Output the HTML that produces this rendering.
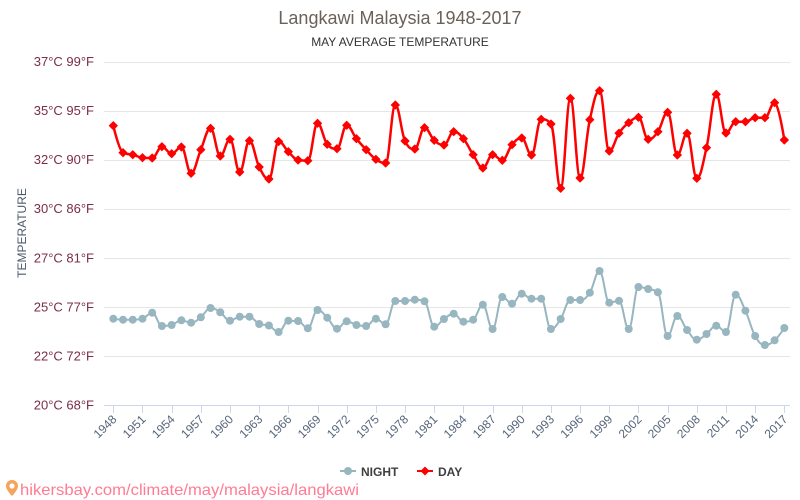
<!DOCTYPE html>
<html><head><meta charset="utf-8"><style>
html,body{margin:0;padding:0;background:#fff;}
svg{display:block;}
text{font-family:"Liberation Sans",sans-serif;}
</style></head><body>
<svg id="c" width="800" height="500" viewBox="0 0 800 500" xmlns="http://www.w3.org/2000/svg">
<rect width="800" height="500" fill="#fff"/>
<text x="400" y="24" text-anchor="middle" font-size="18" fill="#6b6158">Langkawi Malaysia 1948-2017</text>
<text x="400" y="46" text-anchor="middle" font-size="12" fill="#333">MAY AVERAGE TEMPERATURE</text>
<g id="grid" stroke="#e6e6e6" stroke-width="1"></g>
<g id="ylab" font-size="13" fill="#7b2d46" text-anchor="end"></g>
<text transform="translate(26,233) rotate(-90)" text-anchor="middle" font-size="12" fill="#4d5a6c">TEMPERATURE</text>
<line x1="104" y1="405.5" x2="790" y2="405.5" stroke="#ccd6eb" stroke-width="1"/>
<g id="ticks" stroke="#ccd6eb" stroke-width="1"></g>
<g id="xlab" font-size="12" fill="#56657a" text-anchor="end"></g>
<g id="series"></g>
<g>
<line x1="340" y1="471" x2="356" y2="471" stroke="#97b6c0" stroke-width="2"/>
<circle cx="348" cy="471" r="4" fill="#97b6c0"/>
<text x="361" y="476" font-family="'DejaVu Sans Mono',monospace" font-weight="bold" font-size="12" fill="#3f3f3f">NIGHT</text>
<line x1="417" y1="471" x2="433" y2="471" stroke="#ff0000" stroke-width="2"/>
<path d="M425 466.5 L429.5 471 L425 475.5 L420.5 471 Z" fill="#ff0000"/>
<text x="438" y="476" font-family="'DejaVu Sans Mono',monospace" font-weight="bold" font-size="12" fill="#3f3f3f">DAY</text>
</g>
<g transform="translate(6,480)">
<path d="M6 0 C2.5 0 0 2.6 0 6 C0 10 6 16 6 16 C6 16 12 10 12 6 C12 2.6 9.5 0 6 0 Z" fill="#f7a35c"/>
<circle cx="6" cy="6" r="2.6" fill="#fff"/>
</g>
<text x="20" y="495" font-size="16" fill="#ff7b93" textLength="339" lengthAdjust="spacingAndGlyphs">hikersbay.com/climate/may/malaysia/langkawi</text>
</svg>
<script>
(function(){
var NS="http://www.w3.org/2000/svg";
function el(n,a,p){var e=document.createElementNS(NS,n);for(var k in a)e.setAttribute(k,a[k]);if(p)p.appendChild(e);return e;}
var top=61.5,bot=405,step=(bot-top)/7;
var labs=["20°C 68°F","22°C 72°F","25°C 77°F","27°C 81°F","30°C 86°F","32°C 90°F","35°C 95°F","37°C 99°F"];
var g=document.getElementById("grid"),yl=document.getElementById("ylab");
for(var i=0;i<8;i++){var y=bot-i*step;
 if(i>0)el("line",{x1:104,y1:Math.round(y)+0.5,x2:790,y2:Math.round(y)+0.5},g);
 var t=el("text",{x:94,y:y+4.5},yl);t.textContent=labs[i];}
var x0=113.3,dx=9.725;
var tk=document.getElementById("ticks"),xl=document.getElementById("xlab");
for(var yr=1948;yr<=2017;yr+=3){var x=x0+(yr-1948)*dx;
 el("line",{x1:Math.round(x)+0.5,y1:405,x2:Math.round(x)+0.5,y2:413},tk);
 var t=el("text",{x:x+4,y:420,transform:"rotate(-45 "+(x+4)+" 420)"},xl);t.textContent=yr;}
var day=[125.7,152.7,154.7,157.7,158,146.7,153.7,147,173.3,149.7,128.3,156,139.3,172,140.7,167,179,141.5,151.7,160,160.7,123.3,144.3,148.7,125.3,138.7,149.7,159.3,163,105,141,149,127.7,140.3,145,131.7,138.7,154.7,168,154.7,160.3,144.7,138,155,119.3,124,188.3,98.3,178,119.7,90.7,151,133.2,122.7,117.3,139.3,131.7,112.3,155,133.3,178.3,147.7,94.3,133,121.7,121.7,117.7,117.7,102.7,140];
var night=[318.7,319.7,319.7,318.7,312.7,326,325,320.3,322.7,317.3,308,312.3,320.7,316.7,316.7,324,325.5,332,320.7,321,328.3,310,317.7,328.7,321.3,325,326,318.7,324.3,301,301,299.7,301.3,326.7,319,313.7,321.7,319.7,304.7,329,297,303.7,293.7,298.7,298.7,329,319,300,300,292.7,271,302.7,300.8,329,287,289,292.3,336,316,330,339.7,334,325.7,332,294.7,310.7,336,345,340.3,328];
function spline(ys){
 var pts=ys.map(function(y,i){return {x:x0+i*dx,y:y};});
 var s=1.5,den=s+1,d="M"+pts[0].x+" "+pts[0].y;
 for(var i=1;i<pts.length;i++){
  var p=pts[i],l=pts[i-1],n=pts[i+1],lcx,lcy;
  if(n){
   lcx=(s*p.x+l.x)/den;lcy=(s*p.y+l.y)/den;
   var rcx=(s*p.x+n.x)/den,rcy=(s*p.y+n.y)/den,c=0;
   if(rcx!==lcx)c=((rcy-lcy)*(rcx-p.x))/(rcx-lcx)+p.y-rcy;
   lcy+=c;rcy+=c;
   if(lcy>l.y&&lcy>p.y){lcy=Math.max(l.y,p.y);rcy=2*p.y-lcy;}
   else if(lcy<l.y&&lcy<p.y){lcy=Math.min(l.y,p.y);rcy=2*p.y-lcy;}
   if(rcy>n.y&&rcy>p.y){rcy=Math.max(n.y,p.y);lcy=2*p.y-rcy;}
   else if(rcy<n.y&&rcy<p.y){rcy=Math.min(n.y,p.y);lcy=2*p.y-rcy;}
   p.rcx=rcx;p.rcy=rcy;
  } else {lcx=p.x;lcy=p.y;}
  var a=l.rcx!==undefined?l.rcx:l.x,b=l.rcy!==undefined?l.rcy:l.y;
  d+=" C"+a.toFixed(2)+" "+b.toFixed(2)+" "+lcx.toFixed(2)+" "+lcy.toFixed(2)+" "+p.x.toFixed(2)+" "+p.y.toFixed(2);
 }
 return {d:d,pts:pts};
}
var sg=document.getElementById("series");
var ns=spline(night);
el("path",{d:ns.d,fill:"none",stroke:"#97b6c0","stroke-width":2,"stroke-linejoin":"round"},sg);
ns.pts.forEach(function(p){el("circle",{cx:p.x,cy:p.y,r:4,fill:"#97b6c0"},sg);});
var ds=spline(day);
el("path",{d:ds.d,fill:"none",stroke:"#ff0000","stroke-width":2.5,"stroke-linejoin":"round"},sg);
ds.pts.forEach(function(p){var r=4;el("path",{d:"M"+p.x+" "+(p.y-r)+" L"+(p.x+r)+" "+p.y+" L"+p.x+" "+(p.y+r)+" L"+(p.x-r)+" "+p.y+" Z",fill:"#ff0000",stroke:"#ff0000","stroke-width":1,"stroke-linejoin":"round"},sg);});
})();
</script>
</body></html>
